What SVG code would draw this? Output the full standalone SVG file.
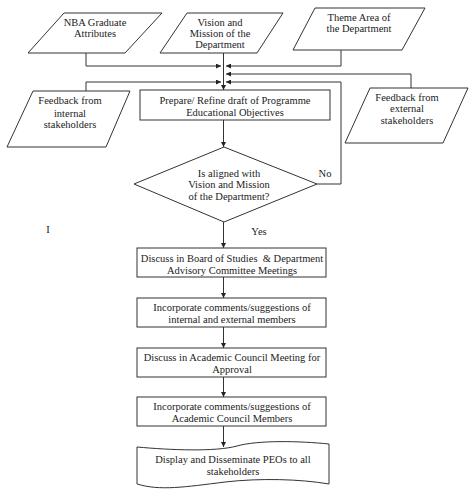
<svg xmlns="http://www.w3.org/2000/svg" width="474" height="498" viewBox="0 0 474 498">
<style>
.s{fill:#fff;stroke:#333;stroke-width:1}
.c{fill:none;stroke:#333;stroke-width:1}
text{font-family:"Liberation Serif","Times New Roman",serif;font-size:10.5px;fill:#222;text-anchor:middle}
</style>
<defs>
<marker id="a" viewBox="0 0 10 10" refX="10" refY="5" markerWidth="5" markerHeight="5" orient="auto" markerUnits="userSpaceOnUse">
<path d="M0,0L10,5L0,10Z" fill="#222"/>
</marker>
</defs>
<rect width="474" height="498" fill="#fff"/>
<g id="connectors">
<polyline class="c" points="86,53 86,66 221,66" marker-end="url(#a)"/>
<polyline class="c" points="341,50 341,66 226,66" marker-end="url(#a)"/>
<polyline class="c" points="411,88 411,74 226,74" marker-end="url(#a)"/>
<polyline class="c" points="86,91 86,82 221,82" marker-end="url(#a)"/>
<polyline class="c" points="317,184 341,184 341,82 226,82" marker-end="url(#a)"/>
<line class="c" x1="223.5" y1="53" x2="223.5" y2="90" marker-end="url(#a)"/>
<line class="c" x1="223.5" y1="120" x2="223.5" y2="147" marker-end="url(#a)"/>
<line class="c" x1="223.5" y1="222" x2="223.5" y2="248" marker-end="url(#a)"/>
<line class="c" x1="223.5" y1="277" x2="223.5" y2="298" marker-end="url(#a)"/>
<line class="c" x1="223.5" y1="327" x2="223.5" y2="348" marker-end="url(#a)"/>
<line class="c" x1="223.5" y1="377" x2="223.5" y2="397" marker-end="url(#a)"/>
<line class="c" x1="223.5" y1="426" x2="223.5" y2="447" marker-end="url(#a)"/>
<text x="325" y="177">No</text>
<text x="259" y="235">Yes</text>
</g>
<g id="nba">
<polygon class="s" points="64,13 162,13 125,53 28,53"/>
<text x="95" y="25.5">NBA Graduate</text>
<text x="95" y="37">Attributes</text>
</g>
<g id="vision">
<polygon class="s" points="187,13 283,13 257,53 160,53"/>
<text x="220" y="25.5">Vision and</text>
<text x="220" y="37">Mission of the</text>
<text x="220" y="48">Department</text>
</g>
<g id="theme">
<polygon class="s" points="315,8 425,8 402,50 293,50"/>
<text x="359" y="20.5">Theme Area of</text>
<text x="359" y="32">the Department</text>
</g>
<g id="internal">
<polygon class="s" points="33,91 130,91 106,147 7,147"/>
<text x="70" y="104">Feedback from</text>
<text x="70" y="116.5">internal</text>
<text x="70" y="128">stakeholders</text>
</g>
<g id="external">
<polygon class="s" points="370,88 468,88 443,143 345,143"/>
<text x="407" y="100.5">Feedback from</text>
<text x="407" y="112">external</text>
<text x="407" y="123.5">stakeholders</text>
</g>
<g id="prepare">
<rect class="s" x="140" y="90" width="190" height="30"/>
<text x="235" y="104">Prepare/ Refine draft of Programme</text>
<text x="235" y="115.5">Educational Objectives</text>
</g>
<g id="decision">
<polygon class="s" points="224,147 317,184 224,222 134,184"/>
<text x="229" y="176.5">Is aligned with</text>
<text x="229" y="188">Vision and Mission</text>
<text x="229" y="199.5">of the Department?</text>
</g>
<g id="stray">
<text x="48" y="233">I</text>
</g>
<g id="board">
<rect class="s" x="137" y="248" width="189" height="29"/>
<text x="232" y="262" xml:space="preserve">Discuss in Board of Studies  &amp; Department</text>
<text x="232" y="273.5">Advisory Committee Meetings</text>
</g>
<g id="incorp1">
<rect class="s" x="137" y="298" width="189" height="29"/>
<text x="232" y="311">Incorporate comments/suggestions of</text>
<text x="232" y="322.5">internal and external members</text>
</g>
<g id="academic">
<rect class="s" x="137" y="348" width="189" height="29"/>
<text x="232" y="361">Discuss in Academic Council Meeting for</text>
<text x="232" y="372.5">Approval</text>
</g>
<g id="incorp2">
<rect class="s" x="137" y="397" width="189" height="29"/>
<text x="232" y="410">Incorporate comments/suggestions of</text>
<text x="232" y="421.5">Academic Council Members</text>
</g>
<g id="display">
<path class="s" d="M137,447 C170,450 215,452 237,446 C258,440 300,441 329,444 L329,484 C300,479 260,478 225,482 C185,487 160,491 137,484 Z"/>
<text x="233" y="463">Display and Disseminate PEOs to all</text>
<text x="233" y="475">stakeholders</text>
</g>
</svg>
